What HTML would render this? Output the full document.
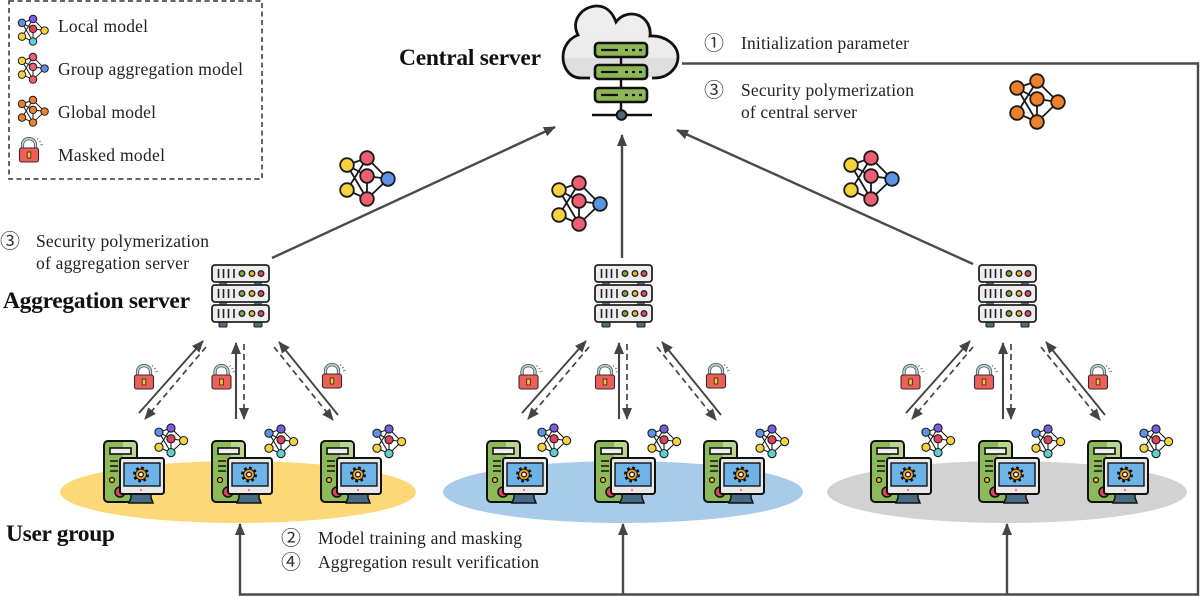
<!DOCTYPE html>
<html><head><meta charset="utf-8"><style>
html,body{margin:0;padding:0;background:#fff}
svg{display:block}
text{font-family:"Liberation Serif","Noto Serif CJK SC",serif;fill:#222;font-size:17.5px}
.b{font-weight:bold;font-size:23.5px;fill:#111}
.c{font-family:"Liberation Sans","Noto Sans CJK JP",sans-serif;font-size:20px;fill:#333}
</style></head><body>
<svg width="1200" height="597" viewBox="0 0 1200 597" xmlns="http://www.w3.org/2000/svg">
<defs>
<linearGradient id="cl" gradientUnits="userSpaceOnUse" x1="0" y1="6" x2="0" y2="78"><stop offset="0" stop-color="#efefef"/><stop offset=".72" stop-color="#ebebeb"/><stop offset=".72" stop-color="#dedede"/><stop offset="1" stop-color="#dedede"/></linearGradient>
<marker id="a" markerWidth="14" markerHeight="11" refX="11" refY="5" orient="auto" markerUnits="userSpaceOnUse"><path d="M0 0L12 5L0 10Z" fill="#444"/></marker>
<g id="edges" fill="none" stroke="#1a1a1a" stroke-width="1.8">
<path d="M-20-13L0-20M-20-13L0-2M-20-13L0 21M0-20L21 1M0-20L-20 12M0-2L21 1M0-2L0 21M21 1L0 21M-20 12L0 21"/>
</g>
<g id="net-o"><use href="#edges"/><g fill="#f08129" stroke="#1a1a1a" stroke-width="1.8"><circle cx="-20" cy="-13" r="6.8"/><circle cx="0" cy="-20" r="6.8"/><circle cx="0" cy="-2" r="6.8"/><circle cx="21" cy="1" r="6.8"/><circle cx="-20" cy="12" r="6.8"/><circle cx="0" cy="21" r="6.8"/></g></g>
<g id="net-g"><use href="#edges"/><g stroke="#1a1a1a" stroke-width="1.8"><circle cx="-20" cy="-13" r="6.8" fill="#f4d33f"/><circle cx="0" cy="-20" r="6.8" fill="#ef5f74"/><circle cx="0" cy="-2" r="6.8" fill="#ef5f74"/><circle cx="21" cy="1" r="6.8" fill="#5b93e6"/><circle cx="-20" cy="12" r="6.8" fill="#f4d33f"/><circle cx="0" cy="21" r="6.8" fill="#ef5f74"/></g></g>
<g id="net-l"><use href="#edges"/><g stroke="#1a1a1a" stroke-width="1.8"><circle cx="-20" cy="-13" r="6.8" fill="#5b93e6"/><circle cx="0" cy="-20" r="6.8" fill="#7c5ce0"/><circle cx="0" cy="-2" r="6.8" fill="#d9455f"/><circle cx="21" cy="1" r="6.8" fill="#f4d33f"/><circle cx="-20" cy="12" r="6.8" fill="#f4d33f"/><circle cx="0" cy="21" r="6.8" fill="#5ccfd8"/></g></g>
<g id="lock">
<path d="M-6.5 0V-4C-6.5-12.5 6.5-12.5 6.5-4V0" fill="none" stroke="#445" stroke-width="3.2"/>
<path d="M-6.5 0V-4C-6.5-12.5 6.5-12.5 6.5-4V0" fill="none" stroke="#b3d6d2" stroke-width="1.7"/>
<rect x="-9.5" y="-1" width="19" height="14" rx="2" fill="#ee5f5a" stroke="#3a2a2a" stroke-width="1.1"/>
<rect x="-1.8" y="3" width="3.6" height="6" fill="#f4c430" stroke="#222" stroke-width="0.8"/>
<path d="M10-7l2-1M11-4l3-.5M8-9l1-2" stroke="#666" stroke-width="0.7"/>
</g>
<g id="pc">
<rect x="1" y="1" width="33" height="61" rx="4" fill="#8cba58" stroke="#111" stroke-width="2"/>
<path d="M20 2H30Q33 2 33 5V18H20Z" fill="#b9d693"/>
<rect x="7" y="8" width="21" height="6" fill="#eee" stroke="#111" stroke-width="1.6"/>
<path d="M7 21H15M7 26H15M7 31H15" stroke="#111" stroke-width="1.5"/>
<circle cx="9" cy="40" r="2.5" fill="#f4b62f" stroke="#111" stroke-width="1.2"/>
<circle cx="17" cy="52" r="5" fill="#d9455f" stroke="#111" stroke-width="1.5"/>
<path d="M28 53H48V58Q49 60 50 63H26Q27 60 28 58Z" fill="#456b85" stroke="#111" stroke-width="1.5"/>
<rect x="17" y="18" width="44" height="36" rx="2.5" fill="#e9e9e9" stroke="#111" stroke-width="2"/>
<rect x="21" y="23" width="36" height="23" fill="#6db3e8" stroke="#111" stroke-width="1.4"/>
<circle cx="38" cy="34.5" r="6.5" fill="none" stroke="#111" stroke-width="3" stroke-dasharray="2.6 2.5"/>
<circle cx="38" cy="34.5" r="5.4" fill="#f4a11c" stroke="#111" stroke-width="1"/>
<circle cx="38" cy="34.5" r="2.4" fill="#fff" stroke="#111" stroke-width="1.2"/>
<circle cx="38" cy="50" r="0.9" fill="#e33"/>
</g>
<g id="row">
<rect x="0" y="0" width="57" height="17" rx="3" fill="#eeeeee" stroke="#222" stroke-width="1.8"/>
<path d="M6.5 4V13M11.5 4V13M16.5 4V13M22 4V13" stroke="#222" stroke-width="1.6"/>
<circle cx="30" cy="8.5" r="2.8" fill="#7aa84a" stroke="#222" stroke-width="1.3"/>
<circle cx="40" cy="8.5" r="2.8" fill="#f1b32d" stroke="#222" stroke-width="1.3"/>
<circle cx="49" cy="8.5" r="2.8" fill="#e44b55" stroke="#222" stroke-width="1.3"/>
</g>
<g id="srv">
<rect x="7" y="16" width="8" height="5" fill="#4f6f85"/><rect x="42" y="16" width="8" height="5" fill="#4f6f85"/>
<rect x="7" y="36" width="8" height="5" fill="#4f6f85"/><rect x="42" y="36" width="8" height="5" fill="#4f6f85"/>
<rect x="7" y="56" width="8" height="6" rx="1" fill="#4f6f85" stroke="#222"/><rect x="42" y="56" width="8" height="6" rx="1" fill="#4f6f85" stroke="#222"/>
<use href="#row"/><use href="#row" y="20"/><use href="#row" y="40"/>
</g>
<g id="grp">
<g stroke="#444" stroke-width="1.9" fill="none">
<path d="M139 413L203 341" marker-end="url(#a)"/>
<path d="M206 347L145 419" stroke-width="1.7" stroke-dasharray="6 4" marker-end="url(#a)"/>
<path d="M236 419V343" stroke-width="2.1" marker-end="url(#a)"/>
<path d="M244 344V419" stroke-width="1.7" stroke-dasharray="6 4" marker-end="url(#a)"/>
<path d="M338 415L279 342" marker-end="url(#a)"/>
<path d="M274 347L333 420" stroke-width="1.7" stroke-dasharray="6 4" marker-end="url(#a)"/>
</g>
<use href="#pc" x="103" y="440"/><use href="#pc" x="211" y="440"/><use href="#pc" x="320" y="440"/>
<use href="#net-l" transform="translate(171 440) scale(.6)"/>
<use href="#net-l" transform="translate(281 441) scale(.6)"/>
<use href="#net-l" transform="translate(389 441) scale(.6)"/>
<use href="#srv" x="212" y="265"/>
</g>
</defs>

<rect x="9" y="1" width="253" height="178" fill="none" stroke="#333" stroke-width="1.5" stroke-dasharray="5 3.5"/>
<use href="#net-l" transform="translate(33 30) scale(.55)"/>
<use href="#net-g" transform="translate(33 68) scale(.55)"/>
<use href="#net-o" transform="translate(33 111) scale(.55)"/>
<use href="#lock" x="29" y="149"/>
<text x="58" y="32" textLength="90">Local model</text>
<text x="58" y="75" textLength="185">Group aggregation model</text>
<text x="58" y="118" textLength="98">Global model</text>
<text x="58" y="161" textLength="107">Masked model</text>

<ellipse cx="238" cy="492" rx="178" ry="31" fill="#fdd876"/>
<ellipse cx="623" cy="492" rx="180" ry="31" fill="#a9cbea"/>
<ellipse cx="1007" cy="492" rx="180" ry="31" fill="#d2d2d2"/>

<use href="#grp"/>
<use href="#grp" x="383"/>
<use href="#grp" x="767"/>

<use href="#lock" x="144" y="376"/><use href="#lock" x="221.5" y="376"/><use href="#lock" x="332" y="375"/>
<use href="#lock" x="528.5" y="376"/><use href="#lock" x="605" y="376"/><use href="#lock" x="716" y="375"/>
<use href="#lock" x="910.5" y="376"/><use href="#lock" x="984" y="376"/><use href="#lock" x="1098" y="376"/>

<path d="M590 78H581C569 78 563 67 563 57C563 46 570 38 578 35C570 20 583 6 597 6C605 6 612 11 616 22C622 14 632 12 640 16C648 20 651 29 650 36C665 35 678 45 678 57C678 68 668 78 655 78H652" fill="url(#cl)" stroke="#111" stroke-width="2.8"/>
<path d="M621 57V65M621 79V87M621 102V115M592 115H652" stroke="#111" stroke-width="2.4" fill="none"/>
<circle cx="621.5" cy="115" r="4.8" fill="#456b85" stroke="#111" stroke-width="2"/>
<g fill="#8db654" stroke="#111" stroke-width="2.6">
<rect x="595" y="43" width="52" height="14" rx="3.5"/><rect x="595" y="65" width="52" height="14" rx="3.5"/><rect x="595" y="88" width="52" height="14" rx="3.5"/></g>
<path d="M601 50H618M601 72H618M601 95H618M625 50h3M632 50h3M639 50h3M625 72h3M632 72h3M639 72h3M625 95h3M632 95h3M639 95h3" stroke="#111" stroke-width="2.2"/>

<g stroke="#4a4a4a" stroke-width="2.4" fill="none">
<path d="M272 258L555 127" marker-end="url(#a)"/>
<path d="M622 258V135" marker-end="url(#a)"/>
<path d="M973 264L677 130" marker-end="url(#a)"/>
<path d="M682 63.5H1198V594.5H240V524" marker-end="url(#a)"/>
<path d="M623 594.5V524" marker-end="url(#a)"/>
<path d="M1007 594.5V524" marker-end="url(#a)"/>
</g>

<use href="#net-o" x="1037" y="101"/>
<use href="#net-g" x="367" y="178"/>
<use href="#net-g" x="579" y="203"/>
<use href="#net-g" x="871" y="178"/>

<text class="b" x="399" y="65" textLength="142">Central server</text>
<text class="b" x="3" y="308" textLength="187">Aggregation server</text>
<text class="b" x="6" y="541" textLength="109">User group</text>

<text class="c" x="704" y="50">①</text>
<text x="741" y="49" textLength="168">Initialization parameter</text>
<text class="c" x="704" y="97">③</text>
<text x="741" y="96" textLength="173">Security polymerization</text>
<text x="741" y="118" textLength="116">of central server</text>

<text class="c" x="0" y="248">③</text>
<text x="36" y="247" textLength="173">Security polymerization</text>
<text x="36" y="269" textLength="153">of aggregation server</text>

<text class="c" x="281" y="545">②</text>
<text x="318" y="544" textLength="204">Model training and masking</text>
<text class="c" x="281" y="569">④</text>
<text x="318" y="568" textLength="221">Aggregation result verification</text>
</svg>
</body></html>
